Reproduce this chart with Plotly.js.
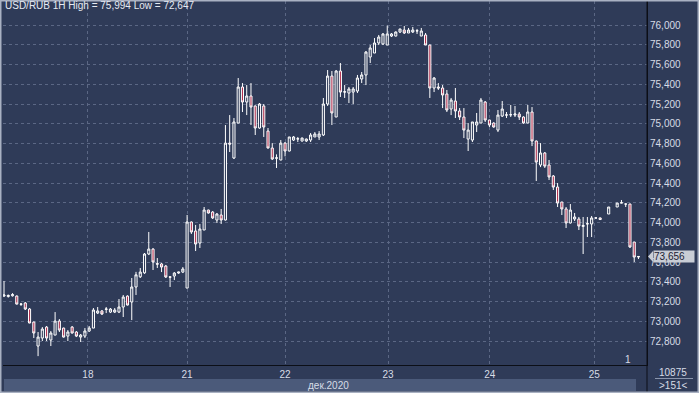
<!DOCTYPE html>
<html>
<head>
<meta charset="utf-8">
<script src="https://cdn.plot.ly/plotly-3.0.1.min.js"></script>
<style>
  html, body { margin: 0; padding: 0; background: #2f3b58; }
  #chart { width: 699px; height: 393px; }
</style>
</head>
<body>
<div id="chart"></div>
<script>
// ---- data (USD/RUB, 1H bars, bar index) ----
const barIdx = [0,1,2,3,4,5,6,7,8,9,10,11,12,13,14,15,16,17,18,19,20,21,22,23,24,25,26,27,28,29,30,31,32,33,34,35,36,37,38,39,40,41,42,43,44,45,46,47,48,49,50,51,52,53,54,55,56,57,58,59,60,61,62,63,64,65,66,67,68,69,70,71,72,73,74,75,76,77,78,79,80,81,82,83,84,85,86,87,88,89,90,91,92,93,94,95,96,97,98,99,100,101,102,103,104,105,106,107,108,109,110,111,112,113,114,115,116,117,118,119,120,121,122,123,124,125,126,127,128,129,130,131,132,133,134,135,136,137,138,139,140,142,144,145,146,147,148,149];

const openP = [73.255,73.250,73.258,73.255,73.175,73.185,73.124,72.992,72.749,72.830,72.941,72.810,72.860,73.002,72.931,72.850,72.941,72.891,72.840,72.850,72.901,72.931,73.083,73.104,73.120,73.093,73.093,73.093,73.144,73.255,73.195,73.347,73.450,73.490,73.681,73.731,73.585,73.580,73.559,73.450,73.458,73.488,73.498,73.336,74.005,73.914,73.792,73.924,74.126,74.106,74.025,74.076,74.025,74.804,74.653,75.007,75.372,75.220,75.281,75.180,74.957,75.180,74.926,74.754,74.650,74.633,74.804,74.724,74.835,74.845,74.825,74.825,74.835,74.866,74.866,74.886,75.200,75.483,75.068,75.534,75.325,75.311,75.321,75.331,75.453,75.494,75.676,75.716,75.818,75.808,75.797,75.888,75.888,75.929,75.949,75.919,75.929,75.939,75.888,75.899,75.797,75.362,75.372,75.362,75.301,75.149,75.230,75.129,75.068,74.845,74.835,74.987,75.007,75.220,75.038,75.007,74.936,75.078,75.090,75.090,75.088,75.098,75.068,75.007,75.119,74.825,74.582,74.704,74.582,74.471,74.359,74.207,74.137,73.995,74.035,74.035,73.960,73.985,73.985,74.046,74.046,74.086,74.157,74.197,74.187,74.187,73.802,73.650];

const highP = [73.407,73.270,73.285,73.262,73.185,73.195,73.134,72.995,72.891,72.941,72.952,72.901,73.093,73.022,72.935,72.911,72.952,72.901,72.871,72.931,72.952,73.134,73.144,73.114,73.144,73.134,73.134,73.225,73.266,73.262,73.438,73.500,73.539,73.691,73.904,73.740,73.640,73.590,73.570,73.458,73.498,73.500,73.549,74.076,74.010,73.975,73.985,74.157,74.130,74.116,74.096,74.137,74.987,75.088,75.058,75.463,75.412,75.392,75.412,75.185,75.210,75.200,74.957,74.804,74.690,74.835,74.815,74.866,74.876,74.866,74.860,74.850,74.906,74.916,74.926,75.261,75.544,75.534,75.544,75.615,75.392,75.372,75.372,75.494,75.524,75.737,75.797,75.868,75.899,75.919,75.994,75.919,75.935,75.960,75.990,75.970,75.980,75.960,75.970,75.919,75.800,75.473,75.412,75.392,75.342,75.261,75.362,75.159,75.159,75.007,75.018,75.109,75.261,75.230,75.040,75.015,75.139,75.230,75.119,75.190,75.180,75.119,75.075,75.190,75.169,74.830,74.804,74.714,74.633,74.481,74.400,74.210,74.157,74.187,74.096,74.056,74.056,74.056,74.066,74.050,74.050,74.157,74.197,74.228,74.190,74.190,73.805,73.660];

const lowP = [73.245,73.240,73.250,73.170,73.155,73.114,72.980,72.830,72.647,72.800,72.800,72.749,72.860,72.891,72.835,72.800,72.875,72.840,72.790,72.830,72.891,72.931,73.073,73.063,73.083,73.083,73.083,73.083,73.043,73.160,73.012,73.266,73.438,73.480,73.670,73.519,73.539,73.498,73.438,73.347,73.417,73.480,73.488,73.336,73.884,73.711,73.742,73.924,74.090,74.035,73.995,73.985,74.020,74.714,74.643,75.007,75.119,75.088,74.987,74.886,74.950,74.866,74.750,74.633,74.552,74.630,74.670,74.720,74.825,74.815,74.820,74.815,74.815,74.866,74.835,74.876,75.180,74.987,75.068,75.271,75.261,75.210,75.200,75.311,75.412,75.392,75.615,75.716,75.797,75.797,75.797,75.878,75.885,75.919,75.909,75.919,75.919,75.909,75.888,75.797,75.261,75.321,75.342,75.159,75.119,75.088,75.058,75.038,74.855,74.724,74.815,74.916,75.007,75.018,74.967,74.960,74.916,75.068,75.058,75.068,75.068,75.038,75.000,75.007,74.774,74.420,74.561,74.552,74.430,74.329,74.157,74.076,73.944,73.990,74.015,73.924,73.681,73.853,73.853,74.040,74.025,74.086,74.157,74.197,74.157,73.742,73.600,73.630];

const closeP = [73.266,73.262,73.270,73.174,73.172,73.124,72.982,72.881,72.840,72.921,72.830,72.881,73.002,72.911,72.840,72.891,72.881,72.850,72.860,72.901,72.931,73.114,73.104,73.073,73.124,73.124,73.114,73.144,73.245,73.164,73.347,73.470,73.498,73.681,73.731,73.600,73.578,73.549,73.448,73.446,73.488,73.498,73.529,74.005,73.904,73.782,73.934,74.126,74.096,74.046,74.086,74.025,74.804,74.794,75.018,75.372,75.220,75.281,75.169,74.957,75.200,74.967,74.754,74.643,74.655,74.804,74.724,74.866,74.866,74.848,74.855,74.845,74.886,74.896,74.896,75.200,75.483,75.109,75.534,75.321,75.321,75.352,75.352,75.463,75.494,75.726,75.767,75.818,75.878,75.909,75.909,75.909,75.929,75.960,75.919,75.949,75.949,75.942,75.939,75.797,75.362,75.463,75.362,75.291,75.139,75.240,75.129,75.068,74.936,74.936,75.018,75.018,75.240,75.038,74.987,74.967,75.088,75.149,75.088,75.092,75.098,75.068,75.007,75.119,74.825,74.612,74.704,74.571,74.461,74.359,74.197,74.137,73.995,74.126,74.056,73.964,73.970,73.988,74.046,74.046,74.030,74.157,74.197,74.200,74.187,73.752,73.650,73.656];

// day boundaries (bar position) and their labels
const dayTickPos = [19.7, 43.0, 66.0, 90.2, 114.1, 138.6];
const dayLabels  = ['18', '21', '22', '23', '24', '25'];
const priceTicks = [72.8, 73.0, 73.2, 73.4, 73.6, 73.8, 74.0, 74.2, 74.4, 74.6, 74.8, 75.0, 75.2, 75.4, 75.6, 75.8, 76.0];
const monthLabel = 'дек.2020';
const volumeText = '10875';
const barsText = '>151<';

// ---- derived text ----
const fmt = v => v.toFixed(3).replace('.', ',');
const hi = Math.max.apply(null, highP);
const lo = Math.min.apply(null, lowP);
const lastClose = closeP[closeP.length - 1];

const BG = '#2f3b58';
const TXT = '#d7dce6';
const FONT = 'Liberation Sans, Arial, sans-serif';

const trace = {
  type: 'candlestick',
  x: barIdx, open: openP, high: highP, low: lowP, close: closeP,
  increasing: { line: { color: '#ffffff', width: 1 }, fillcolor: BG },
  decreasing: { line: { color: '#ffffff', width: 1 }, fillcolor: '#b0304f' },
  whiskerwidth: 0,
  hoverinfo: 'skip',
  showlegend: false
};

// plot area: x 3..647 px, y 1..365 px
const pxX = px => (px - 3) / 644;
const pxY = py => (365 - py) / 364;

const layout = {
  width: 699, height: 393,
  margin: { l: 3, r: 52, t: 1, b: 28, pad: 0 },
  paper_bgcolor: BG, plot_bgcolor: BG,
  separators: ', ',
  font: { family: FONT, size: 10, color: TXT },
  title: {
    text: 'USD/RUB 1H High = ' + fmt(hi) + ' Low = ' + fmt(lo),
    x: 5 / 699, xanchor: 'left', xref: 'container',
    y: 1 - 2 / 393, yanchor: 'top', yref: 'container',
    pad: { t: 0, l: 0, r: 0, b: 0 },
    font: { family: FONT, size: 10, color: '#e6eaf2' }
  },
  xaxis: {
    type: 'linear',
    range: [-0.235, 151.0],
    tickvals: dayTickPos, ticktext: dayLabels,
    ticks: '', showgrid: true, gridcolor: '#5b6784', griddash: '3px,3px', gridwidth: 1,
    zeroline: false, showline: true, linecolor: '#0c0f17', linewidth: 1,
    tickfont: { family: FONT, size: 10, color: TXT },
    rangeslider: { visible: false },
    fixedrange: true
  },
  yaxis: {
    side: 'right',
    range: [72.557, 76.243],
    tickvals: priceTicks, tickformat: '.3f',
    ticks: '', showgrid: true, gridcolor: '#5b6784', griddash: '3px,3px', gridwidth: 1,
    zeroline: false, showline: true, linecolor: '#0c0f17', linewidth: 1,
    tickfont: { family: FONT, size: 10, color: TXT },
    fixedrange: true
  },
  shapes: [
    // month strip
    { type: 'rect', xref: 'paper', yref: 'paper', x0: pxX(4), x1: pxX(636), y0: pxY(391), y1: pxY(379),
      fillcolor: '#4b5a7a', line: { width: 0 }, layer: 'below' },
    // right-axis separator down to bottom
    { type: 'line', xref: 'paper', yref: 'paper', x0: 1, x1: 1, y0: pxY(392), y1: pxY(0),
      line: { color: '#0c0f17', width: 1 } },
    // separator in bottom-right box
    { type: 'line', xref: 'paper', yref: 'paper', x0: pxX(655), x1: pxX(693), y0: pxY(378.5), y1: pxY(378.5),
      line: { color: '#8a95ac', width: 1 } },
    // price label arrow
    { type: 'path', xref: 'paper', yref: 'paper',
      path: 'M ' + pxX(648) + ' ' + pxY(256.5) + ' L ' + pxX(653) + ' ' + pxY(251) + ' L ' + pxX(653) + ' ' + pxY(262) + ' Z',
      fillcolor: '#c9cdd5', line: { width: 0 } },
    // outer frame
    { type: 'rect', xref: 'paper', yref: 'paper', x0: pxX(0.5), x1: pxX(698.5), y0: pxY(392.5), y1: pxY(0.5),
      fillcolor: 'rgba(0,0,0,0)', line: { color: '#a9b1c2', width: 2 } }
  ],
  annotations: [
    { xref: 'paper', yref: 'paper', x: pxX(328), y: pxY(385), text: monthLabel, showarrow: false,
      font: { family: FONT, size: 10, color: TXT }, xanchor: 'center', yanchor: 'middle' },
    { xref: 'paper', yref: 'paper', x: pxX(673), y: pxY(372), text: volumeText, showarrow: false,
      font: { family: FONT, size: 10, color: TXT }, xanchor: 'center', yanchor: 'middle' },
    { xref: 'paper', yref: 'paper', x: pxX(673), y: pxY(385), text: barsText, showarrow: false,
      font: { family: FONT, size: 10, color: TXT }, xanchor: 'center', yanchor: 'middle' },
    { xref: 'paper', yref: 'paper', x: pxX(628), y: pxY(359), text: '1', showarrow: false,
      font: { family: FONT, size: 10, color: TXT }, xanchor: 'center', yanchor: 'middle' },
    { xref: 'paper', yref: 'y', x: pxX(653), y: lastClose, text: fmt(lastClose), showarrow: false,
      xanchor: 'left', yanchor: 'middle', align: 'left', width: 40, height: 11,
      bgcolor: '#c9cdd5', borderpad: 0,
      font: { family: FONT, size: 10, color: '#1b2133' } }
  ]
};

Plotly.newPlot('chart', [trace], layout, { staticPlot: true, displayModeBar: false });
</script>
</body>
</html>
